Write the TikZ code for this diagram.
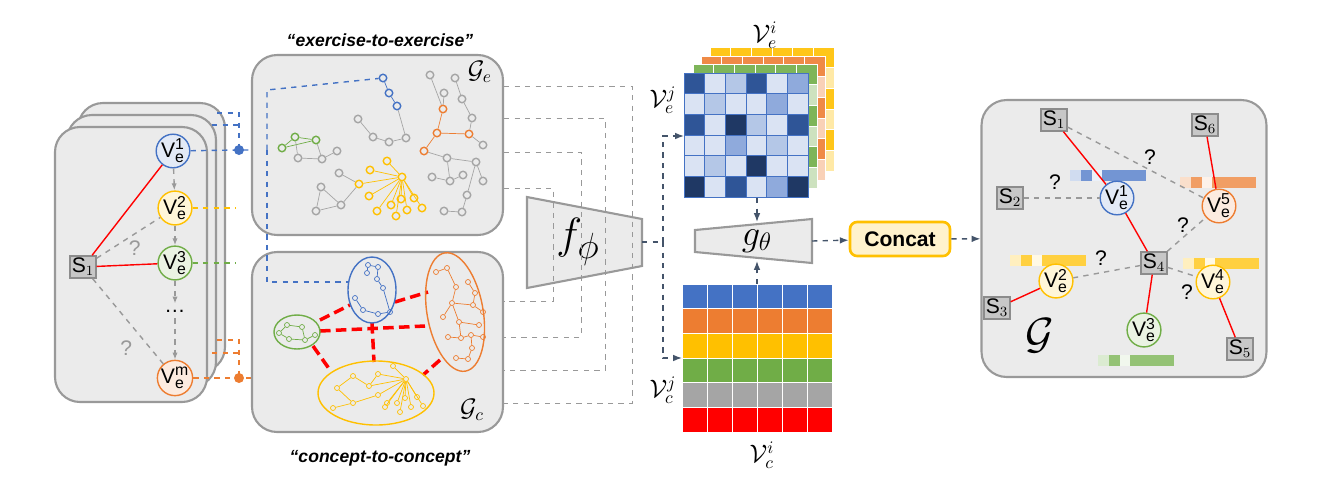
\documentclass[tikz,border=0pt]{standalone}
\usepackage{fontspec}
\setmainfont{Liberation Sans}
\setsansfont{Liberation Sans}
\usetikzlibrary{arrows.meta,calc}
\definecolor{cblue}{HTML}{4472C4}
\definecolor{corange}{HTML}{ED7D31}
\definecolor{cyellow}{HTML}{FFC000}
\definecolor{cgreen}{HTML}{70AD47}
\definecolor{cgray}{HTML}{A5A5A5}
\definecolor{cred}{HTML}{FF0000}
\definecolor{cnavy}{HTML}{44546A}
\definecolor{m0}{HTML}{DAE3F3}
\definecolor{m1}{HTML}{B4C7E7}
\definecolor{m2}{HTML}{8FAADC}
\definecolor{m3}{HTML}{2F5597}
\definecolor{m4}{HTML}{1F3864}
\newcommand\vlab[1]{V$_{\textsf{\small e}}^{\textsf{\small #1}}$}
\begin{document}
\begin{tikzpicture}[x=0.02cm,y=-0.02cm,
    card/.style={draw=black!40,fill=black!8,line width=1.2pt,rounded corners=0.5cm},
    vnode/.style={circle,draw=#1,fill=#1!15,thick,minimum size=0.6cm,inner sep=0pt,font=\large},
    snode/.style={draw=black!45,fill=black!22,thick,minimum size=0.44cm,inner sep=1pt,font=\large},
    gn/.style={circle,draw=#1,thick,inner sep=0pt,minimum size=0.15cm},
    cn/.style={circle,draw=#1,inner sep=0pt,minimum size=0.1cm},
    redln/.style={cred,thick},
    qln/.style={black!40,thick,dashed},
    flow/.style={cnavy,thick,dashed,-{Latex[length=5pt]}},
    back/.style={black!40,dashed,thick}]
\useasboundingbox (0,0) rectangle (1326,488);

% left stacked cards
\draw[card] (78,103) rectangle (225,372);
\draw[card] (67,115) rectangle (216,387);
\draw[card] (55,127) rectangle (207,402);
\node[vnode=cblue] (v1) at (173,151) {\vlab{1}};
\node[vnode=cyellow] (v2) at (175,208) {\vlab{2}};
\node[vnode=cgreen] (v3) at (175,263) {\vlab{3}};
\node (vd) at (175,311) {\large\dots};
\node[vnode=corange] (vm) at (175,378) {\vlab{m}};
\node[snode] (s1) at (83,267) {S$_1$};
\draw[redln] (s1) -- (v1);
\draw[redln] (s1) -- (v3);
\draw[qln] (s1) -- node[pos=0.6,below,font=\large] {?} (v2);
\draw[qln] (s1) -- node[pos=0.65,below left,font=\large] {?} (vm);
\foreach \a/\b in {v1/v2,v2/v3,v3/vd,vd/vm}
  \draw[black!40,thick,dashed,-{Latex[length=4pt]}] (\a) -- (\b);

% selected exercises
\coordinate (bdot) at (239,150);
\coordinate (odot) at (239,378);
\draw[cblue,thick,dashed] (v1) -- (bdot) -- (267,150);
\draw[cblue,thick,dashed] (217,113) -| (bdot);
\draw[cblue,thick,dashed] (212,125) -- (239,125);
\fill[cblue] (bdot) circle (5);
\draw[cyellow,thick,dashed] (v2) -- (235,208);
\draw[cgreen,thick,dashed] (v3) -- (235,263);
\draw[corange,thick,dashed] (vm) -- (odot) -- (290,378);
\draw[corange,thick,dashed] (217,340) -| (odot);
\draw[corange,thick,dashed] (212,353) -- (239,353);
\fill[corange] (odot) circle (5);

% exercise graph
\node[card,minimum width=5.02cm,minimum height=3.6cm] (ge) at (377.5,145) {};
\node[font=\bfseries\itshape] at (380,40) {“exercise-to-exercise”};
\node[font=\Large] at (480,72) {$\mathcal{G}_e$};
\foreach \n/\p/\c in {b1/{383,78}/cblue,b2/{389,93}/cblue,b3/{397,106}/cblue,
    g1/{295,137}/cgreen,g2/{316,140}/cgreen,g3/{282,148}/cgreen,
    a1/{298,158}/cgray,a2/{322,159}/cgray,a3/{337,151}/cgray,
    a4/{358,119}/cgray,a5/{373,137}/cgray,a6/{389,142}/cgray,a7/{406,138}/cgray,
    a8/{339,173}/cgray,a9/{341,205}/cgray,a10/{321,187}/cgray,a11/{316,211}/cgray,
    y0/{402,177}/cyellow,y1/{387,161}/cyellow,y2/{370,170}/cyellow,y3/{359,184}/cyellow,
    y4/{369,196}/cyellow,y5/{377,211}/cyellow,y6/{391,205}/cyellow,y7/{396,216}/cyellow,
    y8/{401,199}/cyellow,y9/{407,210}/cyellow,y10/{414,198}/cyellow,y11/{422,208}/cyellow,
    o1/{443,109}/corange,o2/{437,133}/corange,o3/{469,134}/corange,o4/{424,151}/corange,
    r1/{444,93}/cgray,r2/{462,99}/cgray,r3/{472,118}/cgray,r4/{483,145}/cgray,
    r5/{447,158}/cgray,r6/{476,162}/cgray,r7/{463,175}/cgray,r8/{450,181}/cgray,
    r9/{432,177}/cgray,r10/{483,181}/cgray,r11/{467,195}/cgray,r12/{462,212}/cgray,
    r13/{444,211}/cgray,r14/{430,75}/cgray,r15/{455,78}/cgray}
  \node[gn=\c,fill=black!8] (\n) at (\p) {};
\foreach \a/\b/\c in {b1/b2/cblue,b2/b3/cblue,g1/g2/cgreen,g2/g3/cgreen,g3/g1/cgreen,
    g1/a1/cgray,a1/a2/cgray,a2/g2/cgray,a2/a3/cgray,a4/a5/cgray,a5/a6/cgray,a6/a7/cgray,
    a7/b3/cgray,a8/y3/cgray,y3/a9/cgray,a9/a10/cgray,a10/a11/cgray,a11/a9/cgray,
    o1/o2/corange,o2/o3/corange,o2/o4/corange,o1/r1/cgray,r2/r3/cgray,r3/o3/cgray,
    o3/r4/cgray,o4/r5/cgray,r5/r6/cgray,r5/r8/cgray,r8/r7/cgray,r9/r8/cgray,
    r6/r10/cgray,r6/r11/cgray,r11/r12/cgray,r12/r13/cgray,r14/o1/cgray,r15/r2/cgray}
  \draw[\c] (\a) -- (\b);
\foreach \k in {1,...,11}
  \draw[cyellow] (y0) -- (y\k);

% concept graph
\node[card,minimum width=5.02cm,minimum height=3.6cm] (gc) at (377.5,342) {};
\node[font=\bfseries\itshape] at (380,458) {“concept-to-concept”};
\node[font=\Large] at (472,410) {$\mathcal{G}_c$};
\coordinate (kb) at (372,290);
\coordinate (kg) at (297,332);
\coordinate (ko) at (455,312);
\coordinate (ky) at (376,393);
\foreach \a/\b in {{320,320}/{350,305},{395,302}/{428,292},{320,331}/{425,326},
    {372,323}/{374,362},{313,346}/{330,370},{440,360}/{423,375}}
  \draw[cred,line width=2pt,dash pattern=on 6pt off 3pt] (\a) -- (\b);
\draw[cblue,thick] (kb) ellipse (24 and 33);
\draw[cgreen,thick] (kg) ellipse (23 and 17);
\draw[corange,thick,rotate around={10:(ko)}] (ko) ellipse (28 and 60);
\draw[cyellow,thick] (ky) ellipse (58 and 32);
\foreach \n/\p/\c in {cb1/{368,265}/cblue,cb2/{378,267}/cblue,cb3/{367,273}/cblue,
    cb4/{377,279}/cblue,cb5/{383,288}/cblue,cb6/{355,298}/cblue,cb7/{363,310}/cblue,
    cb8/{378,314}/cblue,cb9/{390,312}/cblue,
    cg1/{279,333}/cgreen,cg2/{287,325}/cgreen,cg3/{302,327}/cgreen,cg4/{289,339}/cgreen,
    cg5/{305,340}/cgreen,cg6/{315,335}/cgreen,
    co1/{436,272}/corange,co2/{447,268}/corange,co3/{456,287}/corange,co4/{468,282}/corange,
    co5/{475,293}/corange,co6/{452,303}/corange,co7/{473,305}/corange,co8/{483,312}/corange,
    co9/{443,317}/corange,co10/{459,322}/corange,co11/{479,325}/corange,co12/{448,337}/corange,
    co13/{461,338}/corange,co14/{471,335}/corange,co15/{483,337}/corange,co16/{472,348}/corange,
    co17/{456,358}/corange,co18/{468,359}/corange,
    cy0/{406,379}/cyellow,cy1/{393,366}/cyellow,cy2/{378,374}/cyellow,cy3/{353,376}/cyellow,
    cy4/{369,386}/cyellow,cy5/{337,388}/cyellow,cy6/{353,403}/cyellow,cy7/{333,408}/cyellow,
    cy8/{378,395}/cyellow,cy9/{387,403}/cyellow,cy10/{397,403}/cyellow,cy11/{405,398}/cyellow,
    cy12/{417,397}/cyellow,cy13/{411,407}/cyellow,cy14/{400,412}/cyellow,cy15/{385,407}/cyellow,
    cy16/{423,406}/cyellow}
  \node[cn=\c] (\n) at (\p) {};
\foreach \a/\b/\c in {cb1/cb2/cblue,cb1/cb3/cblue,cb2/cb4/cblue,cb4/cb5/cblue,cb5/cb9/cblue,
    cb6/cb7/cblue,cb7/cb8/cblue,cb8/cb9/cblue,
    cg1/cg2/cgreen,cg2/cg3/cgreen,cg1/cg4/cgreen,cg4/cg5/cgreen,cg5/cg6/cgreen,cg3/cg5/cgreen,
    co1/co2/corange,co2/co3/corange,co3/co6/corange,co4/co5/corange,co5/co7/corange,
    co6/co7/corange,co7/co8/corange,co6/co9/corange,co6/co10/corange,co10/co11/corange,
    co10/co13/corange,co12/co13/corange,co13/co14/corange,co14/co15/corange,co14/co16/corange,
    co16/co18/corange,co17/co18/corange,
    cy5/cy6/cyellow,cy6/cy7/cyellow,cy5/cy3/cyellow,cy3/cy4/cyellow,cy4/cy2/cyellow,cy6/cy8/cyellow}
  \draw[\c,thin] (\a) -- (\b);
\foreach \k in {1,2,4,8,9,10,11,12,13,14,15,16}
  \draw[cyellow,thin] (cy0) -- (cy\k);

% blue exercise -> its concepts
\draw[cblue,thick,dashed] (267,150) -- (267,90) -- (b1);
\draw[cblue,thick,dashed] (267,150) -- (267,282) -- (348,282);

% encoder f
\draw[card,rounded corners=0pt] (527,197) -- (642,219) -- (642,266) -- (527,288) -- cycle;
\node[font=\Huge] (f) at (578,242) {$f_\phi$};
\coordinate (fout) at (642,242);
\foreach \y/\yy/\x in {86/403/632,118/370/605,152/337/581,188/301/553}
  \draw[back,thin] (ge.east |- 0,\y) -| (\x,\yy) -- (gc.east |- 0,\yy);

% exercise relation tensor
\foreach \dx/\c in {26/cyellow,17/corange,9/cgreen}{
  \foreach \i in {0,...,5}{
    \pgfmathtruncatemacro\t{mod(\i+1,2)*55+35}
    \foreach \j in {0,...,5}
      \filldraw[draw=white,fill=\c!\t] ({684+\dx+\j*20.7},{73-\dx+\i*20.7}) rectangle +(20.7,20.7);
  }
}
\foreach \row [count=\i from 0] in {{3,0,1,3,0,2},{0,1,0,0,2,0},{3,0,4,1,0,3},
    {0,0,2,0,1,0},{0,1,0,4,0,0},{4,0,3,0,2,4}}
  \foreach \v [count=\j from 0] in \row
    \filldraw[draw=cblue,fill=m\v] ({684+\j*20.7},{73+\i*20.7}) rectangle +(20.7,20.7);
\coordinate (me) at (684,136);
\coordinate (mebot) at (757,198);
\node[font=\Large] at (765,35) {$\mathcal{V}_e^i$};
\node[font=\Large] at (663,100) {$\mathcal{V}_e^j$};

% concept relation table
\foreach \c [count=\i from 0] in {cblue,corange,cyellow,cgreen,cgray,cred}
  \foreach \j in {0,...,5}
    \filldraw[draw=white,fill=\c] ({682+\j*25},{284+\i*24.7}) rectangle +(25,24.7);
\coordinate (mc) at (682,358);
\coordinate (mctop) at (757,284);
\node[font=\Large] at (663,390) {$\mathcal{V}_c^j$};
\node[font=\Large] at (762,455) {$\mathcal{V}_c^i$};

% projector g
\draw[card,rounded corners=0pt] (695,230) -- (812,219) -- (812,263) -- (695,252) -- cycle;
\node[font=\huge] (g) at (757,241) {$g_\theta$};
\coordinate (gtop) at (757,222);
\coordinate (gbot) at (757,261);
\coordinate (gout) at (812,241);
\draw[cnavy,thick,dashed] (fout) -- (663,242);
\draw[flow] (663,242) |- (me);
\draw[flow] (663,242) |- (mc);
\draw[flow] (mebot) -- (gtop);
\draw[flow] (mctop) -- (gbot);
\node[draw=cyellow,fill=cyellow!20,line width=1.5pt,rounded corners=4pt,minimum width=2cm,
  minimum height=0.68cm,font=\large\bfseries] (concat) at (900,239) {Concat};
\draw[flow] (gout) -- (concat);

% student-exercise graph
\node[card,minimum width=5.7cm,minimum height=5.54cm] (gg) at (1124,238.5) {};
\draw[flow] (concat) -- (gg);
\node[font=\Huge] at (1040,336) {$\mathcal{G}$};
\foreach \x/\y/\c in {1070/170/cblue,1180/177/corange,1010/255/cyellow,1183/258/cyellow,1098/355/cgreen}
  \foreach \k/\t in {0/25,1/75,2/10,3/75,4/75,5/75,6/75}
    \fill[\c!\t] ({\x+\k*10.8},\y) rectangle +(10.8,11);
\node[snode] (t1) at (1054,120) {S$_1$};
\node[snode] (t6) at (1205,125) {S$_6$};
\node[snode] (t2) at (1010,198) {S$_2$};
\node[snode] (t4) at (1154,263) {S$_4$};
\node[snode] (t3) at (997,308) {S$_3$};
\node[snode] (t5) at (1240,349) {S$_5$};
\node[vnode=cblue] (u1) at (1117,198) {\vlab{1}};
\node[vnode=corange] (u5) at (1219,206) {\vlab{5}};
\node[vnode=cyellow] (u2) at (1056,281) {\vlab{2}};
\node[vnode=cyellow] (u4) at (1213,282) {\vlab{4}};
\node[vnode=cgreen] (u3) at (1144,330) {\vlab{3}};
\foreach \a/\b in {t1/u1,u1/t4,t6/u5,t3/u2,t4/u3,u4/t5}
  \draw[redln] (\a) -- (\b);
\foreach \a/\b in {t1/u5,t2/u1,t4/u5,t4/u2,t4/u4}
  \draw[qln] (\a) -- (\b);
\foreach \p in {{1150,157},{1055,182},{1183,225},{1101,258},{1187,292}}
  \node[font=\large] at (\p) {?};
\end{tikzpicture}
\end{document}
